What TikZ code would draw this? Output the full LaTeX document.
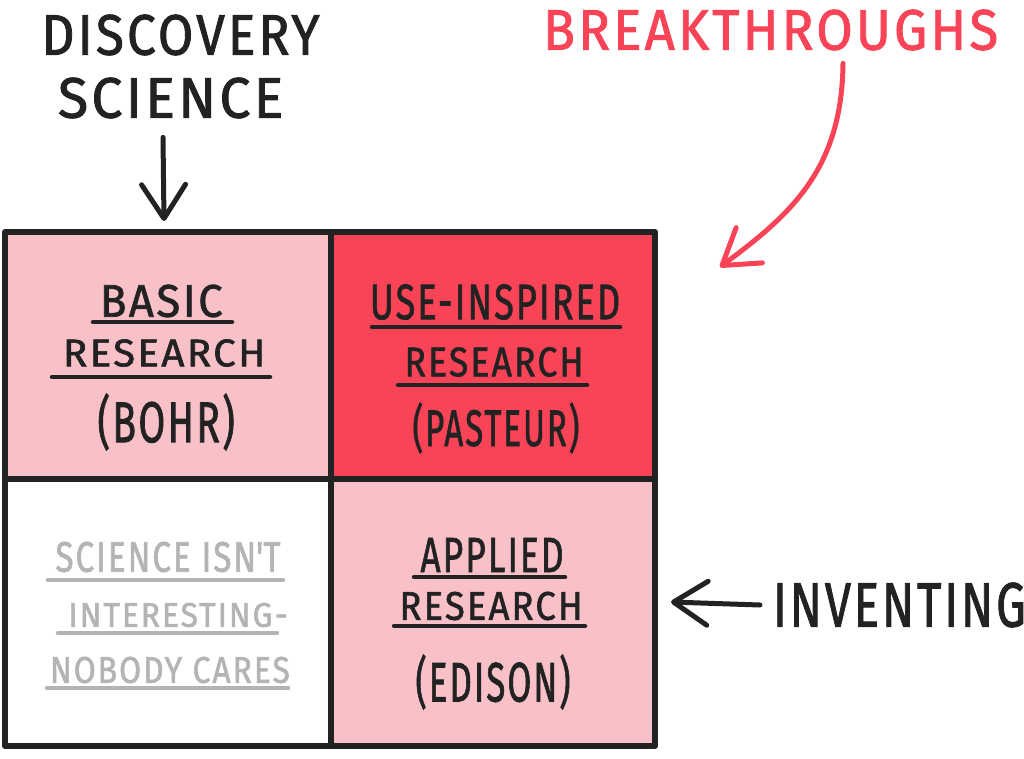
\documentclass[tikz,border=0pt]{standalone}
\usepackage{fontspec}
\setmainfont[LetterSpace=6,FakeBold=1.6]{Fira Sans}
\usepackage{graphicx}
\usetikzlibrary{arrows.meta}
\definecolor{ink}{HTML}{222222}
\definecolor{hotred}{HTML}{F94457}
\definecolor{softpink}{HTML}{F7C1C7}
\definecolor{fadegray}{HTML}{B4B4B4}
\newcommand\hwtext[3]{\resizebox{#1pt}{#2pt}{#3\kern-0.06em}}
\newcommand\hwparen[3]{\resizebox*{#1pt}{#2pt}{#3\kern-0.06em}}
\begin{document}
\begin{tikzpicture}[x=1pt,y=-1pt,
  lbl/.style={inner sep=0pt,outer sep=0pt,text=ink},
  graylbl/.style={inner sep=0pt,outer sep=0pt,text=fadegray},
  redlbl/.style={inner sep=0pt,outer sep=0pt,text=hotred},
  gridline/.style={draw=ink,line width=6pt,line cap=round,line join=round},
  uline/.style={draw=ink,line width=4.5pt,line cap=round},
  grayuline/.style={draw=fadegray,line width=4.5pt,line cap=round},
  handtip/.style={-{Straight Barb[length=34pt,width=44pt,round]}},
  blackarrow/.style={draw=ink,line width=5pt,line cap=round,handtip},
  redarrow/.style={draw=hotred,line width=5pt,line cap=round,handtip}]
\useasboundingbox (0,0) rectangle (1024,759);
\fill[white] (0,0) rectangle (1024,759);
% cells
\fill[softpink] (5,232) rectangle (331,479);
\fill[hotred] (331,232) rectangle (655,479);
\fill[white] (5,479) rectangle (331,746);
\fill[softpink] (331,479) rectangle (655,746);
\draw[gridline] (5,232) rectangle (655,746);
\draw[gridline] (331,232) -- (331,746);
\draw[gridline] (5,479) -- (655,479);
% top-left labels
\node[lbl] (disc) at (179,35) {\hwtext{275}{40}{DISCOVERY}};
\node[lbl] (sci) at (169,98) {\hwtext{222}{40}{SCIENCE}};
\coordinate (dtip) at (164,221);
\draw[blackarrow] ([xshift=-6pt,yshift=-19pt]sci.south) -- (dtip);
% breakthroughs
\node[redlbl] (brk) at (769,30) {\hwtext{452}{40}{BREAKTHROUGHS}};
\coordinate (btip) at (720,267);
\draw[redarrow] ([xshift=74pt,yshift=-13pt]brk.south) .. controls (842,170) and (790,215) .. (btip);
% inventing
\node[lbl] (inv) at (898,605) {\hwtext{250}{44}{INVENTING}};
\coordinate (itip) at (671,602);
\draw[blackarrow] ([xshift=-13pt]inv.west) -- (itip);
% basic research
\node[lbl] (basic) at (160,301) {\hwtext{120}{32}{BASIC}};
\draw[uline] (93,322) -- (232,322);
\node[lbl] (basicres) at (163,353) {\hwtext{200}{27}{RESEARCH}};
\draw[uline] (52,377) -- (270,377);
\node[lbl] (bohr) at (165,422) {\hwparen{135}{57}{(BOHR)}};
% use-inspired
\node[lbl] (use) at (494,302) {\hwtext{248}{35}{USE-INSPIRED}};
\draw[uline] (372,327) -- (620,327);
\node[lbl] (useres) at (493,362) {\hwtext{177}{29}{RESEARCH}};
\draw[uline] (398,385) -- (587,385);
\node[lbl] (pasteur) at (495,428) {\hwparen{165}{51}{(PASTEUR)}};
% nobody cares
\node[graylbl] (isnt) at (167,557) {\hwtext{223}{30}{SCIENCE ISN\textquotesingle T}};
\draw[grayuline] (48,580) -- (283,580);
\node[graylbl] (inter) at (177,615) {\hwtext{217}{24}{INTERESTING-}};
\draw[grayuline] (58,633) -- (277,633);
\node[graylbl] (nobody) at (169,670) {\hwtext{238}{26}{NOBODY CARES}};
\draw[grayuline] (47,688) -- (288,688);
% applied research
\node[lbl] (applied) at (491,555) {\hwtext{141}{34}{APPLIED}};
\draw[uline] (414,577) -- (565,577);
\node[lbl] (appres) at (490,606) {\hwtext{181}{28}{RESEARCH}};
\draw[uline] (394,626) -- (585,626);
\node[lbl] (edison) at (492,682) {\hwparen{153}{55}{(EDISON)}};
\end{tikzpicture}
\end{document}
